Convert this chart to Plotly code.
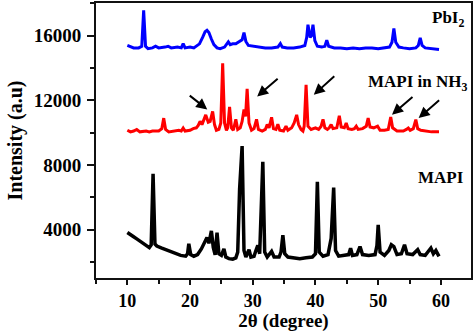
import plotly.graph_objects as go

# ---------------- data ----------------
pbi2_x = [10.0, 10.5, 11.0, 11.8, 12.3, 12.6, 12.9, 13.3, 14.0, 14.5, 15.0, 16.0, 16.5, 17.0, 18.0, 18.6,
          18.9, 19.2, 20.0, 20.6, 21.0, 21.5, 22.0, 22.4, 22.7, 23.0, 23.4, 23.8, 24.3, 24.8, 25.5, 25.8,
          26.1, 26.4, 26.8, 27.3, 27.8, 28.3, 28.6, 28.9, 29.3, 30.0, 31.0, 32.0, 33.0, 34.0, 34.4, 34.7,
          35.5, 36.5, 37.5, 38.3, 38.6, 38.8, 39.15, 39.35, 39.6, 39.9, 40.3, 41.0, 41.5, 41.8, 42.1, 43.0,
          44.0, 45.0, 46.0, 47.0, 48.0, 49.0, 50.0, 51.0, 51.8, 52.2, 52.5, 52.8, 53.3, 54.0, 55.0, 56.0,
          56.4, 56.7, 57.0, 57.5, 58.5, 59.7]
pbi2_y = [15400, 15300, 15250, 15250, 15350, 17570, 15350, 15200, 15250, 15350, 15250, 15300, 15350, 15250, 15300, 15250,
          15520, 15250, 15300, 15250, 15350, 15500, 15900, 16250, 16340, 16200, 15800, 15450, 15250, 15200, 15300, 15450,
          15620, 15450, 15500, 15500, 15600, 15750, 16200, 15650, 15400, 15350, 15300, 15250, 15250, 15300, 15520, 15300,
          15250, 15250, 15300, 15400, 15900, 16690, 15900, 16000, 16690, 15700, 15350, 15300, 15350, 15730, 15350, 15250,
          15250, 15200, 15250, 15200, 15250, 15250, 15200, 15250, 15300, 15600, 16450, 15600, 15300, 15250, 15200, 15250,
          15400, 15870, 15400, 15250, 15200, 15150]

nh3_x = [10.0, 10.5, 11.0, 11.5, 12.0, 13.0, 13.5, 14.0, 15.0, 15.5, 15.8, 16.1, 16.6, 17.5, 18.2, 18.6,
         18.9, 19.2, 20.0, 20.5, 21.0, 21.3, 21.6, 21.9, 22.2, 22.5, 22.9, 23.2, 23.6, 23.9, 24.2, 24.6,
         24.9, 25.2, 25.5, 25.8, 26.0, 26.3, 26.6, 26.9, 27.3, 27.6, 28.0, 28.3, 28.6, 28.85, 29.1, 29.4,
         29.8, 30.2, 30.6, 30.9, 31.5, 32.0, 32.3, 32.6, 33.0, 33.3, 33.7, 34.0, 34.3, 34.9, 35.3, 35.6,
         36.2, 36.6, 37.0, 37.3, 37.7, 38.0, 38.2, 38.5, 38.8, 39.3, 40.0, 40.5, 40.9, 41.2, 41.5, 41.9,
         42.2, 42.5, 42.8, 43.4, 43.8, 44.1, 44.6, 44.9, 45.2, 45.8, 46.2, 46.5, 46.8, 47.5, 48.1, 48.4,
         48.7, 49.3, 49.9, 50.3, 51.0, 51.6, 52.0, 52.3, 53.0, 54.0, 54.5, 54.8, 55.1, 55.6, 56.0, 56.3,
         56.8, 57.5, 58.5, 59.7]
nh3_y = [10150, 10050, 10100, 10200, 10050, 10100, 10050, 10100, 10100, 10250, 10900, 10200, 10050, 10100, 10150, 10100,
         10290, 10100, 10150, 10250, 10300, 10450, 10700, 10500, 10800, 11100, 10650, 10700, 11320, 10500, 10150, 10200,
         10600, 14300, 10600, 10150, 10300, 11600, 10300, 10150, 10830, 10200, 10300, 10700, 11440, 11000, 12710, 10600,
         10150, 10250, 10830, 10200, 10100, 10200, 10500, 10300, 10950, 10250, 10200, 10520, 10150, 10100, 10400, 10150,
         10300, 10600, 11100, 10500, 10200, 10100, 10400, 12960, 10400, 10200, 10300, 10200, 10400, 10830, 10300, 10200,
         10300, 10500, 10250, 10300, 11050, 10350, 10300, 10600, 10250, 10200, 10250, 10400, 10200, 10250, 10400, 10900,
         10350, 10300, 10400, 10150, 10150, 10200, 10970, 10300, 10100, 10100, 10200, 10290, 10150, 10250, 10810, 10250,
         10150, 10100, 10050, 10050]

mapi_x = [10.0, 10.5, 11.0, 11.5, 12.0, 12.5, 13.0, 13.5, 13.8, 14.1, 14.4, 14.7, 15.5, 16.5, 17.5, 18.5,
          19.3, 19.6, 19.8, 20.1, 20.6, 21.2, 21.8, 22.3, 22.7, 23.0, 23.4, 23.7, 24.0, 24.3, 24.6, 25.0,
          25.4, 25.7, 26.2, 26.8, 27.3, 27.6, 27.9, 28.3, 28.6, 28.9, 29.4, 29.7, 30.2, 30.5, 30.8, 31.1,
          31.4, 31.6, 31.9, 32.3, 33.0, 33.4, 34.2, 34.5, 34.8, 35.1, 35.6, 36.5, 37.5, 38.5, 39.5, 40.0,
          40.3, 40.6, 41.2, 42.0, 42.5, 42.9, 43.2, 43.7, 44.5, 45.3, 45.6, 45.9, 46.6, 47.1, 47.5, 48.5,
          49.5, 49.8, 50.0, 50.3, 51.0, 51.7, 52.1, 52.5, 53.0, 53.7, 54.2, 54.6, 55.5, 56.3, 56.7, 57.5,
          58.1, 58.4, 58.8, 59.2, 59.7]
mapi_y = [3815, 3650, 3550, 3420, 3300, 3150, 3000, 2880, 3050, 7460, 3100, 2980, 2850, 2700, 2550, 2400,
          2350, 2500, 3120, 2450, 2350, 2450, 2800, 3200, 3510, 3150, 3920, 2900, 2440, 3815, 2500, 2400,
          2810, 2300, 2200, 2170, 2250, 2600, 6500, 9166, 2700, 2300, 2750, 2300, 2350, 2700, 3020, 2500,
          6300, 8200, 2600, 2300, 2650, 2300, 2300, 2600, 3650, 2500, 2300, 2250, 2200, 2250, 2300, 2500,
          6950, 2600, 2350, 2450, 3450, 6600, 2700, 2350, 2400, 2450, 2850, 2400, 2450, 2950, 2450, 2400,
          2450, 3000, 4290, 2600, 2400, 2700, 3060, 2950, 2450, 2500, 3060, 2500, 2450, 2750, 2450, 2400,
          2700, 2850, 2500, 2700, 2340]

series_names = ["PbI<sub>2</sub>", "MAPI in NH<sub>3</sub>", "MAPI"]
arrow_x = [22.74, 30.70, 39.73, 52.20, 56.45]
arrow_y = [11440, 12241, 12346, 11116, 10907]
y_tick_vals = [4000, 8000, 12000, 16000]
y_tick_text = ["4000", "8000", "12000", "16000"]
x_tick_vals = [10, 20, 30, 40, 50, 60]

FONT = "Liberation Serif"

fig = go.Figure()
fig.add_trace(go.Scatter(x=pbi2_x, y=pbi2_y, mode="lines", name=series_names[0],
                         line=dict(color="#0000ff", width=3)))
fig.add_trace(go.Scatter(x=nh3_x, y=nh3_y, mode="lines", name=series_names[1],
                         line=dict(color="#ff0000", width=3)))
fig.add_trace(go.Scatter(x=mapi_x, y=mapi_y, mode="lines", name=series_names[2],
                         line=dict(color="#000000", width=3.5)))

annotations = []
# arrows (head at data point, tail offset in px)
tails = [(-19, -15), (22, -19), (22, -20), (22, -19), (22, -19)]
for ax_, ay_, (dx, dy) in zip(arrow_x, arrow_y, tails):
    annotations.append(dict(x=ax_, y=ay_, xref="x", yref="y", text="", showarrow=True,
                            ax=dx, ay=dy, arrowhead=2, arrowsize=1.1, arrowwidth=2,
                            arrowcolor="black"))
# series labels
label_pos = [(64.0, 17040), (64.6, 13100), (64.0, 7250)]
for name, (lx, ly) in zip(series_names, label_pos):
    annotations.append(dict(x=lx, y=ly, xref="x", yref="y", text=name, showarrow=False,
                            xanchor="right", yanchor="middle",
                            font=dict(family=FONT, size=17, color="black", weight="bold")))

fig.update_layout(
    width=474, height=332,
    margin=dict(l=96, r=3, t=1, b=54),
    plot_bgcolor="white", paper_bgcolor="white",
    showlegend=False,
    annotations=annotations,
    font=dict(family=FONT, color="black", weight="bold"),
)
fig.update_xaxes(
    range=[5, 64.8], showgrid=False, zeroline=False,
    showline=True, linecolor="#111", linewidth=2, mirror=True,
    tickvals=x_tick_vals, ticks="outside", ticklen=5, tickwidth=1.5, tickcolor="#111",
    minor=dict(dtick=5, tick0=0, ticks="outside", ticklen=4, tickwidth=1.5, tickcolor="#111"),
    tickfont=dict(family=FONT, size=18, color="black", weight="bold"),
    title=dict(text="2θ (degree)", font=dict(family=FONT, size=19, color="black", weight="bold"),
               standoff=0),
)
fig.update_yaxes(
    range=[1000, 18030], showgrid=False, zeroline=False,
    showline=True, linecolor="#111", linewidth=2, mirror=True,
    tickvals=y_tick_vals, ticktext=y_tick_text, ticks="outside", ticklen=7, tickwidth=1.5, tickcolor="#111",
    minor=dict(dtick=2000, tick0=0, ticks="outside", ticklen=4, tickwidth=1.5, tickcolor="#111"),
    tickfont=dict(family=FONT, size=19, color="black", weight="bold"),
    ticklabelstandoff=2,
    title=dict(text="Intensity (a.u)", font=dict(family=FONT, size=20, color="black", weight="bold"),
               standoff=6),
)

fig.write_html("out.html")
